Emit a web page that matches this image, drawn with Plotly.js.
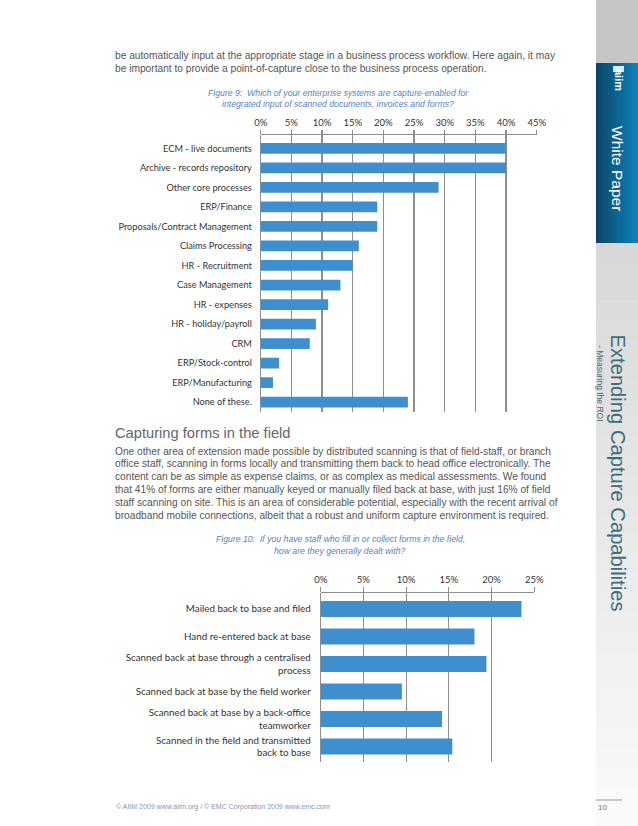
<!DOCTYPE html>
<html>
<head>
<meta charset="utf-8">
<script src="https://cdn.plot.ly/plotly-3.0.1.min.js"></script>
<style>
html,body{margin:0;padding:0;background:#fff;}
#page{width:638px;height:826px;}
</style>
</head>
<body>
<div id="page"></div>
<script>
// ---------- DATA ----------
const fig9Categories = [
  "ECM - live documents",
  "Archive - records repository",
  "Other core processes",
  "ERP/Finance",
  "Proposals/Contract Management",
  "Claims Processing",
  "HR - Recruitment",
  "Case Management",
  "HR - expenses",
  "HR - holiday/payroll",
  "CRM",
  "ERP/Stock-control",
  "ERP/Manufacturing",
  "None of these."
];
const fig9Values = [40, 40, 29, 19, 19, 16, 15, 13, 11, 9, 8, 3, 2, 24];
const fig9TickVals = [0, 5, 10, 15, 20, 25, 30, 35, 40, 45];
const fig9TickText = ["0%", "5%", "10%", "15%", "20%", "25%", "30%", "35%", "40%", "45%"];

const fig10Categories = [
  "Mailed back to base and filed",
  "Hand re-entered back at base",
  "Scanned back at base through a centralised<br>process",
  "Scanned back at base by the field worker",
  "Scanned back at base by a back-office<br>teamworker",
  "Scanned in the field and transmitted<br>back to base"
];
const fig10Values = [23.5, 18, 19.4, 9.5, 14.2, 15.4];
const fig10TickVals = [0, 5, 10, 15, 20, 25];
const fig10TickText = ["0%", "5%", "10%", "15%", "20%", "25%"];

const introLines = [
  "be automatically input at the appropriate stage in a business process workflow. Here again, it may",
  "be important to provide a point-of-capture close to the business process operation."
];
const fig9Caption = [
  "Figure 9:  Which of your enterprise systems are capture-enabled for",
  "integrated input of scanned documents, invoices and forms?"
];
const sectionHeading = "Capturing forms in the field";
const paraLines = [
  "One other area of extension made possible by distributed scanning is that of field-staff, or branch",
  "office staff, scanning in forms locally and transmitting them back to head office electronically. The",
  "content can be as simple as expense claims, or as complex as medical assessments. We found",
  "that 41% of forms are either manually keyed or manually filed back at base, with just 16% of field",
  "staff scanning on site. This is an area of considerable potential, especially with the recent arrival of",
  "broadband mobile connections, albeit that a robust and uniform capture environment is required."
];
const fig10Caption = [
  "Figure 10:  If you have staff who fill in or collect forms in the field,",
  "how are they generally dealt with?"
];
const footerText = "© AIIM 2009 www.aiim.org / © EMC Corporation 2009 www.emc.com";
const pageNumber = "10";
const sideBrand = "aiim";
const sideLabel = "White Paper";
const sideTitle = "Extending Capture Capabilities";
const sideSubtitle = "- Measuring the ROI";

// ---------- LAYOUT HELPERS ----------
const W = 638, H = 826;
const px = x => x / W;
const py = y => 1 - y / H;

const BODY = "Liberation Sans, Arial, sans-serif";
const CHART = "Lato, 'Open Sans', sans-serif";
const barColor = "#3f8fcf";
const gridColor = "#8e8e8e";

const annotations = [];
function addText(text, x, y, opts) {
  annotations.push(Object.assign({
    text: text, xref: "paper", yref: "paper", x: px(x), y: py(y),
    showarrow: false, xanchor: "left", yanchor: "middle",
    font: {family: BODY, size: 10, color: "#555"}
  }, opts || {}));
}

introLines.forEach((t, i) => addText(t, 113, 55.7 + i * 12.7, {font: {family: BODY, size: 10.2, color: "#555"}}));
fig9Caption.forEach((t, i) => addText("<i>" + t + "</i>", 338, 92.7 + i * 11.5,
  {xanchor: "center", font: {family: BODY, size: 8.7, color: "#5a7fbe"}}));
addText(sectionHeading, 113, 432.5, {font: {family: BODY, size: 14.7, color: "#666"}});
paraLines.forEach((t, i) => addText(t, 113, 451 + i * 12.9, {font: {family: BODY, size: 10.2, color: "#555"}}));
fig10Caption.forEach((t, i) => addText("<i>" + t + "</i>", 340, 539 + i * 12,
  {xanchor: "center", font: {family: BODY, size: 8.7, color: "#5a7fbe"}}));
addText(footerText, 114, 806.7, {font: {family: BODY, size: 7, color: "#8a94b2"}});
addText(pageNumber, 596, 807.5, {font: {family: BODY, size: 8, color: "#6e7a98"}});

// sidebar texts
addText("<b>" + sideBrand + "</b>", 619, 80, {xanchor: "center", textangle: 90,
  font: {family: BODY, size: 11, color: "#fff"}});
addText(sideLabel, 618, 168, {xanchor: "center", textangle: 90,
  font: {family: BODY, size: 15.5, color: "#fff"}});
addText(sideTitle, 618, 472.5, {xanchor: "center", textangle: 90,
  font: {family: BODY, size: 20.2, color: "#3d6d7c"}});
addText(sideSubtitle, 600, 383, {xanchor: "center", textangle: 90,
  font: {family: BODY, size: 8.5, color: "#4d6b78"}});

// ---------- SIDEBAR SHAPES ----------
const shapes = [];
function rect(x0, y0, x1, y1, color) {
  shapes.push({type: "rect", xref: "paper", yref: "paper", layer: "below",
    x0: px(x0), x1: px(x1), y0: py(y1), y1: py(y0), line: {width: 0}, fillcolor: color});
}
function mix(a, b, t) {
  const c = a.map((v, i) => Math.round(v + (b[i] - v) * t));
  return "rgb(" + c.join(",") + ")";
}
rect(596, 0, 638, 63, "#c6c6c6");
// blue band with horizontal gradient
const blueL = [10, 72, 104], blueR = [14, 128, 186];
const nB = 14;
for (let i = 0; i < nB; i++) {
  const x0 = 596 + i * 42 / nB, x1 = 596 + (i + 1) * 42 / nB + 0.5;
  rect(x0, 63, x1, 243, mix(blueL, blueR, i / (nB - 1)));
}
// light gray fading down
const gTop = [216, 216, 216], gBot = [250, 250, 250];
const nG = 30;
for (let i = 0; i < nG; i++) {
  const y0 = 243 + i * (826 - 243) / nG, y1 = 243 + (i + 1) * (826 - 243) / nG + 0.5;
  rect(596, y0, 638, y1, mix(gTop, gBot, i / (nG - 1)));
}
// aiim logo mark
rect(613, 66, 624, 72, "rgba(255,255,255,0.85)");
// page number rule
shapes.push({type: "line", xref: "paper", yref: "paper", x0: px(596), x1: px(622), y0: py(800), y1: py(800),
  line: {color: "#9a9a9a", width: 1}});

// ---------- TRACES ----------
const traces = [
  {type: "bar", orientation: "h", x: fig9Values, y: fig9Categories, xaxis: "x", yaxis: "y",
   marker: {color: barColor}, width: 0.55, hoverinfo: "skip"},
  {type: "bar", orientation: "h", x: fig10Values, y: fig10Categories, xaxis: "x2", yaxis: "y2",
   marker: {color: barColor}, width: 0.58, hoverinfo: "skip"}
];

const tickFont = {family: CHART, size: 9.5, color: "#333"};
const catFont = {family: CHART, size: 9.2, color: "#333"};
const catFont2 = {family: CHART, size: 9.8, color: "#333"};

const layout = {
  width: W, height: H, autosize: false,
  margin: {l: 0, r: 0, t: 0, b: 0, pad: 0},
  paper_bgcolor: "#fff", plot_bgcolor: "rgba(0,0,0,0)",
  showlegend: false,
  bargap: 0.4,
  xaxis: {
    domain: [px(260.7), px(536.7)], range: [0, 45], side: "top", anchor: "y",
    tickvals: fig9TickVals, ticktext: fig9TickText, tickfont: tickFont,
    showgrid: true, gridcolor: gridColor, gridwidth: 1.2,
    zeroline: true, zerolinecolor: gridColor, zerolinewidth: 1.2,
    showline: true, linecolor: gridColor, linewidth: 1.2, mirror: false,
    ticks: "outside", ticklen: 4, tickcolor: gridColor, tickwidth: 1.2,
    fixedrange: true
  },
  yaxis: {
    domain: [py(412), py(135)], anchor: "x",
    categoryorder: "array", categoryarray: fig9Categories,
    range: [13.5, -0.68], tickfont: catFont,
    ticks: "outside", ticklen: 6, tickcolor: "rgba(0,0,0,0)",
    showgrid: false, zeroline: false, showline: false, fixedrange: true
  },
  xaxis2: {
    domain: [px(320.7), px(534.3)], range: [0, 25], side: "top", anchor: "y2",
    tickvals: fig10TickVals, ticktext: fig10TickText, tickfont: tickFont,
    showgrid: true, gridcolor: gridColor, gridwidth: 1.2,
    zeroline: true, zerolinecolor: gridColor, zerolinewidth: 1.2,
    showline: true, linecolor: gridColor, linewidth: 1.2,
    ticks: "outside", ticklen: 5, tickcolor: gridColor, tickwidth: 1.2,
    fixedrange: true
  },
  yaxis2: {
    domain: [py(762), py(593)], anchor: "x2",
    categoryorder: "array", categoryarray: fig10Categories,
    range: [5.56, -0.58], tickfont: catFont2,
    ticks: "outside", ticklen: 7, tickcolor: "rgba(0,0,0,0)",
    showgrid: false, zeroline: false, showline: false, fixedrange: true
  },
  shapes: shapes,
  annotations: annotations
};

Plotly.newPlot("page", traces, layout, {displayModeBar: false, staticPlot: true});
</script>
</body>
</html>
